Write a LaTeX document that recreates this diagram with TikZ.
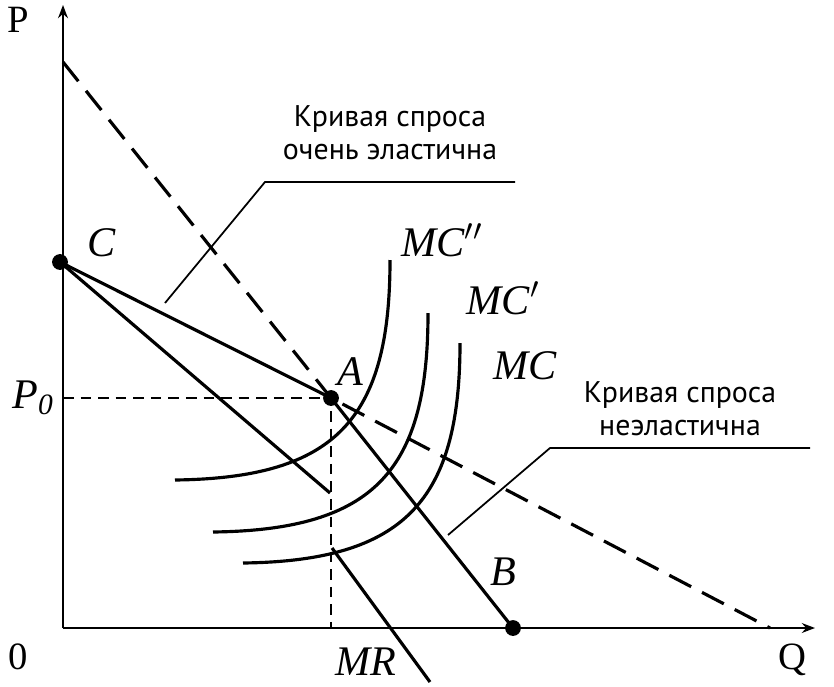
\documentclass[tikz,border=0pt]{standalone}
\usepackage{fontspec}
\setmainfont{Liberation Serif}
\newfontfamily\cyr{PT Sans}
\usetikzlibrary{arrows.meta}
\begin{document}
\begin{tikzpicture}[x=0.02cm, y=-0.02cm, >=Stealth,
    curve/.style={line width=1.8pt},
    demand/.style={line width=1.8pt, dash pattern=on 14pt off 7pt},
    guide/.style={line width=0.9pt, dash pattern=on 6pt off 4pt},
    note/.style={font=\cyr\fontsize{17}{19}\selectfont, align=center},
    lbl/.style={font=\fontsize{24}{26}\selectfont\itshape},
    dot/.style={circle, fill, inner sep=0pt, minimum size=9pt}]
  \useasboundingbox (0,0) rectangle (834,686);
  % axes
  \coordinate (O) at (63,628);
  \coordinate (ytop) at (63,5);
  \coordinate (xend) at (815,628);
  \draw[line width=1pt,->] (O) -- (ytop);
  \draw[line width=1pt,->] (O) -- (xend);
  \node[font=\fontsize{22}{24}\selectfont] (plab) at (18,20) {P};
  \node[font=\fontsize{22}{24}\selectfont] (qlab) at (792,660) {Q};
  \node[font=\fontsize{22}{24}\selectfont] (zero) at (18,657) {0};
  % key points
  \node[dot] (C) at (60,262) {};
  \node[dot] (A) at (331,398) {};
  \node[dot] (B) at (513,628) {};
  \coordinate (dtop) at (63,62);
  \coordinate (dend) at (770,628);
  \coordinate (mr1) at (330,493);
  \coordinate (mr2) at (332,548);
  \coordinate (mr3) at (430,682);
  \coordinate (pax) at (63,398);
  \coordinate (qax) at (331,628);
  % kinked demand (dashed)
  \draw[demand] (dtop) -- (A.center) -- (dend);
  % solid demand and MR
  \draw[curve] (C.center) -- (A.center) -- (B.center);
  \draw[curve] (C.center) -- (mr1);
  \draw[curve] (mr2) -- (mr3);
  % guides
  \draw[guide] (pax) -- (A.center) -- (qax);
  % marginal cost curves
  \draw[curve] (175,480) .. controls (335,478) and (390,420) .. (390,260);
  \draw[curve] (213,532) .. controls (375,530) and (428,470) .. (428,313);
  \draw[curve] (243,563) .. controls (405,561) and (460,500) .. (460,343);
  % labels
  \node[lbl] (lC) at (102,243) {C};
  \node[lbl] (lA) at (350,372) {A};
  \node[lbl] (lB) at (503,572) {B};
  \node[lbl] (lMCpp) at (442,240) {MC$''$};
  \node[lbl] (lMCp) at (503,298) {MC$'$};
  \node[lbl] (lMC) at (525,366) {MC};
  \node[lbl] (lP) at (33,398) {P$_{\mathit 0}$};
  \node[lbl] (lMR) at (366,662) {MR};
  % notes
  \node[note] (elast) at (390,133) {Кривая спроса\\очень эластична};
  \coordinate (e1) at (265,182);
  \coordinate (e2) at (515,182);
  \coordinate (e3) at (165,303);
  \draw[line width=1pt] (e3) -- (e1) -- (e2);
  \node[note] (inel) at (680,409) {Кривая спроса\\неэластична};
  \coordinate (i1) at (550,448);
  \coordinate (i2) at (810,448);
  \coordinate (i3) at (448,535);
  \draw[line width=1pt] (i3) -- (i1) -- (i2);
\end{tikzpicture}
\end{document}
